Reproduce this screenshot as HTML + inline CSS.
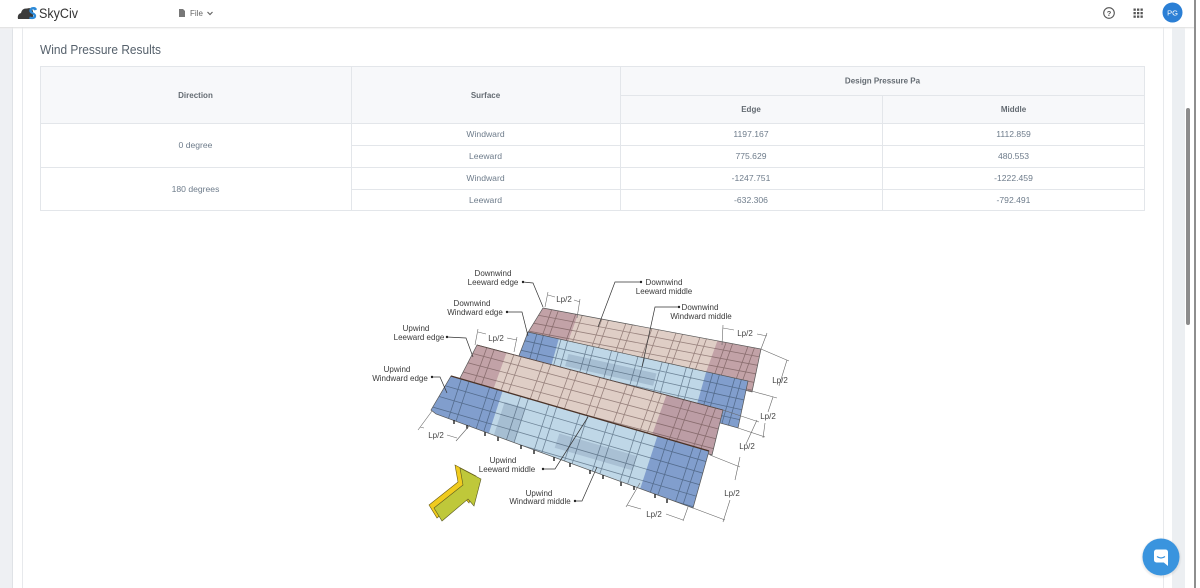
<!DOCTYPE html>
<html><head><meta charset="utf-8"><style>
html,body{margin:0;padding:0;background:#fff;}
svg{display:block;font-family:"Liberation Sans",Arial,sans-serif;}
</style></head><body>
<svg width="1200" height="588" viewBox="0 0 1200 588" xmlns="http://www.w3.org/2000/svg">
<defs>
<linearGradient id="hs" x1="0" y1="0" x2="0" y2="1"><stop offset="0" stop-color="#dcdcdc"/><stop offset="1" stop-color="#ffffff" stop-opacity="0"/></linearGradient>
<radialGradient id="cs" cx="0.5" cy="0.5" r="0.5"><stop offset="0.7" stop-color="#000" stop-opacity="0.18"/><stop offset="1" stop-color="#000" stop-opacity="0"/></radialGradient>
<path id="grid" vector-effect="non-scaling-stroke" fill="none" d="M-10 2.2H110M-10 4.6H110M-10 7H110M-10 9.4H110M-10 11.6H110M4 -3V16M7 -3V16M15 -3V16M18 -3V16M27 -3V16M30 -3V16M38 -3V16M41 -3V16M50 -3V16M53 -3V16M61 -3V16M64 -3V16M72 -3V16M75 -3V16M84 -3V16M87 -3V16M94 -3V16M97 -3V16"/>
<clipPath id="cD"><polygon points="543,308 761,349 752,392 527,334"/></clipPath>
<clipPath id="cC"><polygon points="528,332 748,381 738,428 515,366"/></clipPath>
<clipPath id="cB"><polygon points="477,345 723,410 712,455 459,380"/></clipPath>
<clipPath id="cA"><polygon points="451,376 709,451 693,508 436,414 431,410"/></clipPath>
</defs>

<rect width="1200" height="588" fill="#fff"/>
<rect x="0" y="27" width="12" height="561" fill="#eef0f3"/>
<rect x="12" y="27" width="1" height="561" fill="#dfe2e6"/>
<rect x="22" y="27" width="1" height="561" fill="#e7e9ec"/>
<rect x="1163" y="27" width="1" height="561" fill="#e7e9ec"/>
<rect x="1172" y="27" width="13" height="561" fill="#eceff2"/>
<rect x="1186" y="108" width="4" height="217" rx="2" fill="#8c8c8c"/>
<rect x="1194" y="0" width="2" height="588" fill="#8e8e8e"/>

<rect x="0" y="0" width="1194" height="27" fill="#fff"/>
<rect x="0" y="27" width="1194" height="3" fill="url(#hs)"/>
<g>
<path d="M18 19 Q17 14 21 13 Q22 8 27 8.5 Q31 7 33 11 L33 19 Z" fill="#3b3b3b"/>
<path d="M31 7.5 Q36 6 37 9.5 L34.5 10.5 Q34 9 32 9.8 Q31 11 33.5 12.5 Q37.5 14.5 35.5 18 Q33 20 29 18.5 L30 16.5 Q32.5 17.5 33.5 16.3 Q34 15 31.5 13.8 Q28.5 12 29.5 9.5 Z" fill="#2d8ad8"/>
<text x="39" y="18" font-size="14" fill="#333" textLength="39" lengthAdjust="spacingAndGlyphs">SkyCiv</text>
</g>
<path d="M179 9 H183 L185 11 V17 H179 Z" fill="#777"/>
<text x="190" y="16" font-size="8" fill="#666">File</text>
<path d="M207.5 12 L210 14.5 L212.5 12" stroke="#666" stroke-width="1.2" fill="none"/>
<circle cx="1109" cy="13" r="5.3" fill="none" stroke="#555" stroke-width="1.1"/>
<text x="1109" y="15.8" font-size="7.5" font-weight="bold" fill="#555" text-anchor="middle">?</text>
<g fill="#555">
<rect x="1133.5" y="8.5" width="2.3" height="2.3"/><rect x="1137" y="8.5" width="2.3" height="2.3"/><rect x="1140.5" y="8.5" width="2.3" height="2.3"/>
<rect x="1133.5" y="12" width="2.3" height="2.3"/><rect x="1137" y="12" width="2.3" height="2.3"/><rect x="1140.5" y="12" width="2.3" height="2.3"/>
<rect x="1133.5" y="15.5" width="2.3" height="2.3"/><rect x="1137" y="15.5" width="2.3" height="2.3"/><rect x="1140.5" y="15.5" width="2.3" height="2.3"/>
</g>
<circle cx="1172.5" cy="12.5" r="10" fill="#2b7fd5"/>
<text x="1172.5" y="15.3" font-size="7.5" fill="#fff" text-anchor="middle">PG</text>

<text x="40" y="54" font-size="13" fill="#56616c" textLength="121" lengthAdjust="spacingAndGlyphs">Wind Pressure Results</text>

<rect x="40" y="66" width="1105" height="57" fill="#f7f8fa"/>
<g stroke="#e3e6ea" stroke-width="1" fill="none" shape-rendering="crispEdges">
<rect x="40.5" y="66.5" width="1104" height="144"/>
<line x1="351.5" y1="66" x2="351.5" y2="211"/>
<line x1="620.5" y1="66" x2="620.5" y2="211"/>
<line x1="882.5" y1="95" x2="882.5" y2="211"/>
<line x1="620" y1="95.5" x2="1145" y2="95.5"/>
<line x1="40" y1="123.5" x2="1145" y2="123.5"/>
<line x1="351" y1="145.5" x2="1145" y2="145.5"/>
<line x1="40" y1="167.5" x2="1145" y2="167.5"/>
<line x1="351" y1="189.5" x2="1145" y2="189.5"/>
</g>
<g font-size="8" font-weight="bold" fill="#646b72" text-anchor="middle">
<text x="195.5" y="98">Direction</text>
<text x="485.5" y="98">Surface</text>
<text x="882.5" y="83.5">Design Pressure Pa</text>
<text x="751" y="112">Edge</text>
<text x="1013.5" y="112">Middle</text>
</g>
<g font-size="8.6" fill="#6e7c8b" text-anchor="middle">
<text x="195.5" y="148">0 degree</text>
<text x="195.5" y="192">180 degrees</text>
<text x="485.5" y="137">Windward</text>
<text x="485.5" y="159">Leeward</text>
<text x="485.5" y="181">Windward</text>
<text x="485.5" y="203">Leeward</text>
<text x="751" y="137">1197.167</text>
<text x="751" y="159">775.629</text>
<text x="751" y="181">-1247.751</text>
<text x="751" y="203">-632.306</text>
<text x="1013.5" y="137">1112.859</text>
<text x="1013.5" y="159">480.553</text>
<text x="1013.5" y="181">-1222.459</text>
<text x="1013.5" y="203">-792.491</text>
</g>

<!-- D back pink -->
<g clip-path="url(#cD)">
<polygon points="543,308 761,349 752,392 527,334" fill="#dfcec6"/>
<g transform="matrix(2.18,0.41,-1.25,3.45,543,308)">
<rect x="-8" y="-4" width="24" height="22" fill="#c2a2a7"/>
<rect x="80" y="-4" width="30" height="22" fill="#c2a2a7"/>
<use href="#grid" stroke="#5d4342" stroke-opacity="0.55" stroke-width="0.8"/>
</g>
</g>
<polygon points="543,308 761,349 752,392 527,334" fill="none" stroke="#555" stroke-width="0.7"/>
<!-- C blue -->
<g clip-path="url(#cC)">
<polygon points="528,332 748,381 738,428 515,366" fill="#bfd7e7"/>
<g transform="matrix(2.2,0.49,-1.15,4.05,528,332)">
<rect x="-8" y="-4" width="22" height="22" fill="#819ecd"/>
<rect x="81" y="-4" width="30" height="22" fill="#819ecd"/>
<rect x="20" y="3" width="40" height="3" fill="#8ea5bd" opacity="0.5"/>
<use href="#grid" stroke="#2f435a" stroke-opacity="0.55" stroke-width="0.8"/>
</g>
</g>
<polygon points="528,332 748,381 738,428 515,366" fill="none" stroke="#555" stroke-width="0.7"/>
<!-- B pink -->
<g clip-path="url(#cB)">
<polygon points="477,345 723,410 712,455 459,380" fill="#dfcec6"/>
<g transform="matrix(2.46,0.65,-1.45,4.0,477,345)">
<rect x="-8" y="-4" width="20" height="22" fill="#c2a2a7"/>
<rect x="77" y="-4" width="34" height="22" fill="#bc9da5"/>
<use href="#grid" stroke="#5d4342" stroke-opacity="0.55" stroke-width="0.8"/>
</g>
</g>
<polygon points="477,345 723,410 712,455 459,380" fill="none" stroke="#555" stroke-width="0.7"/>
<line x1="477" y1="345" x2="723" y2="410" stroke="#5b4a45" stroke-width="0.9"/>
<!-- A front blue -->
<g clip-path="url(#cA)">
<polygon points="451,376 709,451 693,508 436,414 431,410" fill="#bfd7e7"/>
<g transform="matrix(2.58,0.75,-1.55,4.75,451,376)">
<rect x="-10" y="-4" width="30" height="22" fill="#819ecd"/>
<rect x="80" y="-4" width="30" height="22" fill="#819ecd"/>
<rect x="22" y="2" width="8" height="12" fill="#8ea5bd" opacity="0.5"/>
<rect x="45" y="5" width="30" height="3" fill="#8ea5bd" opacity="0.45"/>
<use href="#grid" stroke="#2f435a" stroke-opacity="0.55" stroke-width="0.8"/>
</g>
</g>
<polygon points="451,376 709,451 693,508 436,414 431,410" fill="none" stroke="#555" stroke-width="0.7"/>
<line x1="451" y1="376" x2="709" y2="451" stroke="#4b3328" stroke-width="1.3"/>
<g stroke="#222" stroke-width="1.4">
<line x1="454" y1="420" x2="454" y2="424"/><line x1="467" y1="425" x2="467" y2="429"/>
<line x1="485" y1="432" x2="485" y2="436"/><line x1="498" y1="437" x2="498" y2="441"/>
<line x1="521" y1="445" x2="521" y2="449"/><line x1="534" y1="450" x2="534" y2="454"/>
<line x1="554" y1="457" x2="554" y2="461"/><line x1="570" y1="463" x2="570" y2="467"/>
<line x1="590" y1="470" x2="590" y2="474"/><line x1="603" y1="475" x2="603" y2="479"/>
<line x1="621" y1="482" x2="621" y2="486"/><line x1="634" y1="486" x2="634" y2="490"/>
<line x1="655" y1="494" x2="655" y2="498"/><line x1="667" y1="499" x2="667" y2="503"/>
</g>

<g stroke="#666" stroke-width="0.6" fill="none">
<path d="M548 295 L555 297 M574 300 L580 302 M548 292 L545 307 M580 299 L577 318"/>
<path d="M478 332 L486 334 M507 338 L517 340 M478 329 L475 345 M517 337 L514 352"/>
<path d="M420 427 L424 428 M447 435 L457 438 M432 411 L418 430 M470 425 L456 441"/>
<path d="M723 328 L734 330 M757 334 L767 336 M723 325 L722 345 M767 333 L761 349"/>
<path d="M787 360 L779 386 M773 397 L768 412 M765 423 L763 438 M761 349 L789 361 M748 390 L777 398 M738 428 L765 437"/>
<path d="M757 420 L746 444 M740 457 L735 480 M730 500 L723 522 M723 410 L759 422 M710 455 L740 467 M693 508 L725 520"/>
<path d="M627 505 L641 509 M666 514 L683 520 M640 483 L626 507 M688 507 L683 521"/>
</g>
<g font-size="8" fill="#444" text-anchor="middle">
<text x="564" y="302">Lp/2</text>
<text x="496" y="341">Lp/2</text>
<text x="436" y="438">Lp/2</text>
<text x="745" y="336">Lp/2</text>
<text x="780" y="383">Lp/2</text>
<text x="768" y="419">Lp/2</text>
<text x="747" y="449">Lp/2</text>
<text x="732" y="496">Lp/2</text>
<text x="654" y="517">Lp/2</text>
</g>

<g stroke="#333" stroke-width="0.7" fill="none">
<path d="M523 282 L533 283 L543 307"/>
<path d="M641 282 L615 282 L598 327"/>
<path d="M679 307 L655 307 L642 367"/>
<path d="M507 312 L522 312 L528 336"/>
<path d="M447 337 L466 338 L473 357"/>
<path d="M432 377 L440 377 L447 393"/>
<path d="M543 469 L555 469 L588 417"/>
<path d="M575 501 L582 501 L597 467"/>
</g>
<g fill="#222">
<circle cx="523" cy="282" r="1.2"/><circle cx="641" cy="282" r="1.2"/><circle cx="679" cy="307" r="1.2"/>
<circle cx="507" cy="312" r="1.2"/><circle cx="447" cy="337" r="1.2"/><circle cx="432" cy="377" r="1.2"/>
<circle cx="543" cy="469" r="1.2"/><circle cx="575" cy="501" r="1.2"/>
</g>
<g font-size="8" fill="#3a3a3a" text-anchor="middle">
<text x="493" y="276">Downwind</text><text x="493" y="285">Leeward edge</text>
<text x="664" y="285">Downwind</text><text x="664" y="294">Leeward middle</text>
<text x="700" y="310">Downwind</text><text x="701" y="319">Windward middle</text>
<text x="472" y="306">Downwind</text><text x="475" y="315">Windward edge</text>
<text x="416" y="331">Upwind</text><text x="419" y="340">Leeward edge</text>
<text x="397" y="372">Upwind</text><text x="400" y="381">Windward edge</text>
<text x="503" y="463">Upwind</text><text x="507" y="472">Leeward middle</text>
<text x="539" y="496">Upwind</text><text x="540" y="504">Windward middle</text>
</g>

<polygon points="429,505 458,482 455,465 476,476 469,503 463,496 437,518" fill="#f0cb1e" stroke="#6a5a10" stroke-width="0.6"/>
<polygon points="434,508 463,485 460,468 481,479 474,506 468,499 442,521" fill="#bfc83a" stroke="#5a5a20" stroke-width="0.6"/>

<circle cx="1161" cy="558" r="21" fill="url(#cs)"/>
<circle cx="1161" cy="557" r="18.5" fill="#3a94de"/>
<rect x="1154" y="549.5" width="14" height="13" rx="2.5" fill="#fff"/>
<path d="M1162 561 L1168 566 L1168 559 Z" fill="#fff"/>
<path d="M1157 556.5 Q1161 559.5 1165 556.5" stroke="#3a94de" stroke-width="1.2" fill="none"/>
</svg>
</body></html>
